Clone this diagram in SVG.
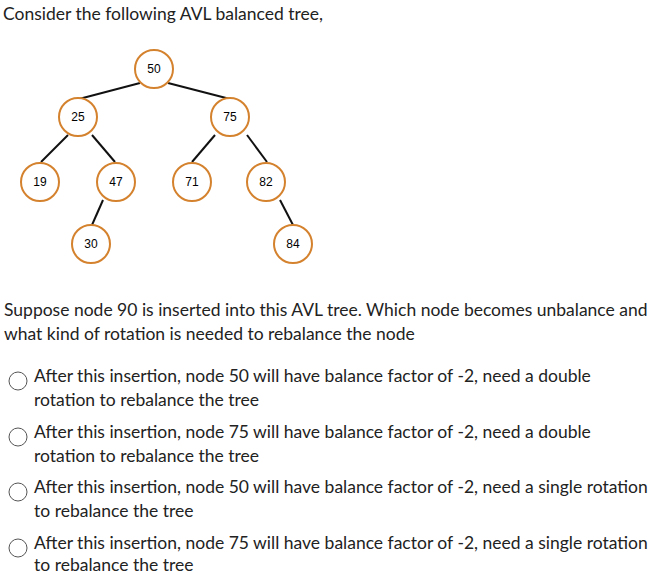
<svg xmlns="http://www.w3.org/2000/svg" width="652" height="575" viewBox="0 0 652 575">
<style>
.t{font-family:Lato,"Liberation Sans",sans-serif;font-size:17.5px;fill:#222}
.n circle{fill:#fff;stroke:#D4822E;stroke-width:2}
.n text{font-family:"Liberation Sans",Arial,sans-serif;font-size:12px;fill:#000;text-anchor:middle}
.e line{stroke:#111;stroke-width:2}
.r{fill:#fff;stroke:#555;stroke-width:1}
</style>
<rect width="652" height="575" fill="#fff"/>
<text class="t" x="3" y="20" font-size="18.3">Consider the following AVL balanced tree,</text>
<g class="e" id="edges">
<line x1="140" y1="83" x2="79" y2="99"/>
<line x1="168" y1="83" x2="230" y2="99"/>
<line x1="68" y1="135" x2="41" y2="162"/>
<line x1="92" y1="135" x2="115" y2="162"/>
<line x1="215" y1="135" x2="192" y2="162"/>
<line x1="247" y1="135" x2="267" y2="162"/>
<line x1="103" y1="200" x2="92" y2="225"/>
<line x1="280" y1="200" x2="293" y2="225"/>
</g>
<g class="n" id="n50"><circle cx="154" cy="69" r="19"/><text x="154" y="73">50</text></g>
<g class="n" id="n25"><circle cx="78" cy="117" r="19"/><text x="78" y="121">25</text></g>
<g class="n" id="n75"><circle cx="230" cy="117" r="19"/><text x="230" y="121">75</text></g>
<g class="n" id="n19"><circle cx="40" cy="182" r="19"/><text x="40" y="186">19</text></g>
<g class="n" id="n47"><circle cx="116" cy="182" r="19"/><text x="116" y="186">47</text></g>
<g class="n" id="n71"><circle cx="192" cy="182" r="19"/><text x="192" y="186">71</text></g>
<g class="n" id="n82"><circle cx="266" cy="182" r="19"/><text x="266" y="186">82</text></g>
<g class="n" id="n30"><circle cx="91" cy="244" r="19"/><text x="91" y="248">30</text></g>
<g class="n" id="n84"><circle cx="293" cy="244" r="19"/><text x="293" y="248">84</text></g>
<text class="t" x="4" y="316">Suppose node 90 is inserted into this AVL tree. Which node becomes unbalance and</text>
<text class="t" x="4" y="340">what kind of rotation is needed to rebalance the node</text>
<circle class="r" cx="18" cy="381" r="9"/>
<text class="t" x="34" y="382">After this insertion, node 50 will have balance factor of -2, need a double</text>
<text class="t" x="34" y="406">rotation to rebalance the tree</text>
<circle class="r" cx="18" cy="437" r="9"/>
<text class="t" x="34" y="438">After this insertion, node 75 will have balance factor of -2, need a double</text>
<text class="t" x="34" y="462">rotation to rebalance the tree</text>
<circle class="r" cx="18" cy="492" r="9"/>
<text class="t" x="34" y="493">After this insertion, node 50 will have balance factor of -2, need a single rotation</text>
<text class="t" x="34" y="517">to rebalance the tree</text>
<circle class="r" cx="18" cy="548" r="9"/>
<text class="t" x="34" y="549">After this insertion, node 75 will have balance factor of -2, need a single rotation</text>
<text class="t" x="34" y="571">to rebalance the tree</text>
</svg>
